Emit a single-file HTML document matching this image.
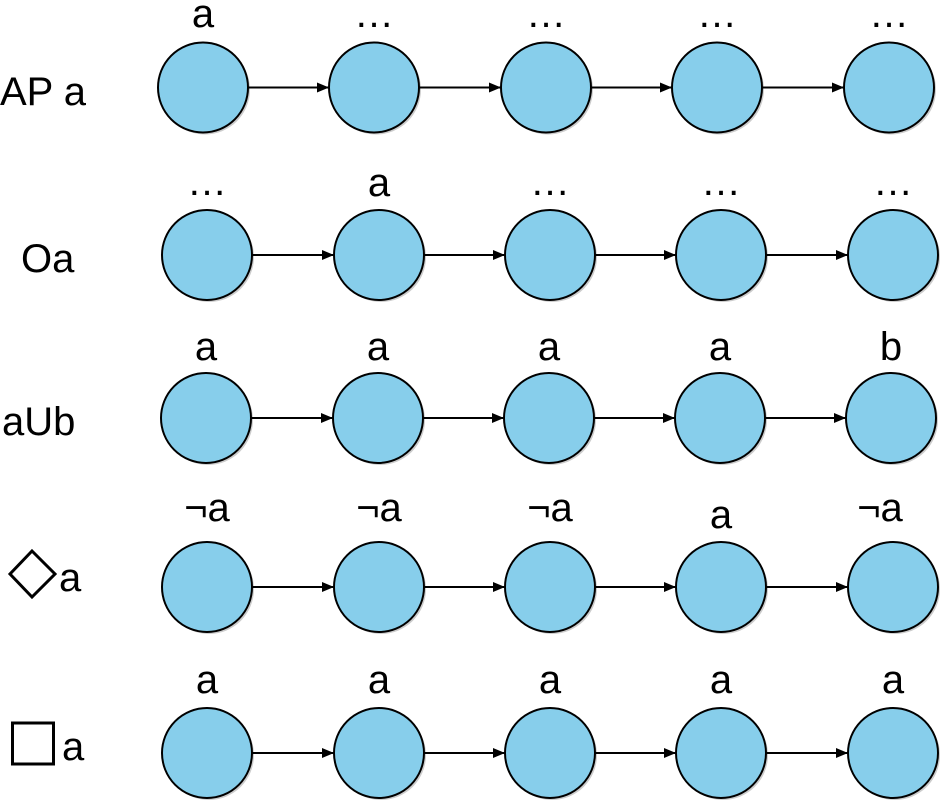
<!DOCTYPE html>
<html><head><meta charset="utf-8"><style>html,body{margin:0;padding:0;background:#fff;width:944px;height:803px;overflow:hidden}</style></head>
<body>
<svg width="944" height="803" viewBox="0 0 944 803" xmlns="http://www.w3.org/2000/svg" font-family="Liberation Sans, Arial, sans-serif" font-size="40">
<defs>
<marker id="ar" markerWidth="12" markerHeight="10" refX="12" refY="5" orient="auto" markerUnits="userSpaceOnUse">
<path d="M0,0 L12,5 L0,10 z" fill="#000"/></marker>
</defs>
<g id="rows"></g>
<!-- left labels -->
<text x="0" y="105">AP a</text>
<text x="21" y="272">Oa</text>
<text x="2" y="435">aUb</text>
<path d="M32,551 L55,574 L32,597 L10,574 Z" fill="none" stroke="#000" stroke-width="3"/>
<text x="59" y="591">a</text>
<rect x="12.5" y="723" width="41" height="41" fill="none" stroke="#000" stroke-width="3"/>
<text x="62" y="760">a</text>
<g text-anchor="middle">
<!-- row1 -->
<text x="203" y="27">a</text><text x="374" y="27">…</text><text x="546" y="27">…</text><text x="717" y="27">…</text><text x="889" y="27">…</text>
<!-- row2 -->
<text x="207" y="195">…</text><text x="379" y="196">a</text><text x="550" y="195">…</text><text x="721" y="195">…</text><text x="893" y="195">…</text>
<!-- row3 -->
<text x="206" y="360">a</text><text x="378" y="360">a</text><text x="549" y="360">a</text><text x="720" y="360">a</text><text x="891" y="360">b</text>
<!-- row4 -->
<text x="207" y="521">¬a</text><text x="379" y="521">¬a</text><text x="550" y="521">¬a</text><text x="721" y="528">a</text><text x="880" y="521">¬a</text>
<!-- row5 -->
<text x="207" y="693">a</text><text x="379" y="693">a</text><text x="550" y="693">a</text><text x="721" y="693">a</text><text x="893" y="693">a</text>
</g>
<g stroke="#000" stroke-width="2" fill="#87ceeb">
<!-- row1 -->
<g transform="translate(0,87.5)">
<circle cx="205" cy="2" r="45" fill="#ccc" stroke="none"/><circle cx="376" cy="2" r="45" fill="#ccc" stroke="none"/><circle cx="548" cy="2" r="45" fill="#ccc" stroke="none"/><circle cx="719" cy="2" r="45" fill="#ccc" stroke="none"/><circle cx="891" cy="2" r="45" fill="#ccc" stroke="none"/>
<circle cx="203" cy="0" r="45"/><circle cx="374" cy="0" r="45"/><circle cx="546" cy="0" r="45"/><circle cx="717" cy="0" r="45"/><circle cx="889" cy="0" r="45"/>
<line x1="248" y1="0" x2="329" y2="0" marker-end="url(#ar)"/><line x1="419" y1="0" x2="501" y2="0" marker-end="url(#ar)"/><line x1="591" y1="0" x2="672" y2="0" marker-end="url(#ar)"/><line x1="762" y1="0" x2="844" y2="0" marker-end="url(#ar)"/>
</g>
<g transform="translate(0,255)">
<circle cx="209" cy="2" r="45" fill="#ccc" stroke="none"/><circle cx="381" cy="2" r="45" fill="#ccc" stroke="none"/><circle cx="552" cy="2" r="45" fill="#ccc" stroke="none"/><circle cx="723" cy="2" r="45" fill="#ccc" stroke="none"/><circle cx="895" cy="2" r="45" fill="#ccc" stroke="none"/>
<circle cx="207" cy="0" r="45"/><circle cx="379" cy="0" r="45"/><circle cx="550" cy="0" r="45"/><circle cx="721" cy="0" r="45"/><circle cx="893" cy="0" r="45"/>
<line x1="252" y1="0" x2="334" y2="0" marker-end="url(#ar)"/><line x1="424" y1="0" x2="505" y2="0" marker-end="url(#ar)"/><line x1="595" y1="0" x2="676" y2="0" marker-end="url(#ar)"/><line x1="766" y1="0" x2="848" y2="0" marker-end="url(#ar)"/>
</g>
<g transform="translate(0,418)">
<circle cx="208" cy="2" r="45" fill="#ccc" stroke="none"/><circle cx="380" cy="2" r="45" fill="#ccc" stroke="none"/><circle cx="551" cy="2" r="45" fill="#ccc" stroke="none"/><circle cx="722" cy="2" r="45" fill="#ccc" stroke="none"/><circle cx="893" cy="2" r="45" fill="#ccc" stroke="none"/>
<circle cx="206" cy="0" r="45"/><circle cx="378" cy="0" r="45"/><circle cx="549" cy="0" r="45"/><circle cx="720" cy="0" r="45"/><circle cx="891" cy="0" r="45"/>
<line x1="251" y1="0" x2="333" y2="0" marker-end="url(#ar)"/><line x1="423" y1="0" x2="504" y2="0" marker-end="url(#ar)"/><line x1="594" y1="0" x2="675" y2="0" marker-end="url(#ar)"/><line x1="765" y1="0" x2="846" y2="0" marker-end="url(#ar)"/>
</g>
<g transform="translate(0,587)">
<circle cx="209" cy="2" r="45" fill="#ccc" stroke="none"/><circle cx="381" cy="2" r="45" fill="#ccc" stroke="none"/><circle cx="552" cy="2" r="45" fill="#ccc" stroke="none"/><circle cx="723" cy="2" r="45" fill="#ccc" stroke="none"/><circle cx="895" cy="2" r="45" fill="#ccc" stroke="none"/>
<circle cx="207" cy="0" r="45"/><circle cx="379" cy="0" r="45"/><circle cx="550" cy="0" r="45"/><circle cx="721" cy="0" r="45"/><circle cx="893" cy="0" r="45"/>
<line x1="252" y1="0" x2="334" y2="0" marker-end="url(#ar)"/><line x1="424" y1="0" x2="505" y2="0" marker-end="url(#ar)"/><line x1="595" y1="0" x2="676" y2="0" marker-end="url(#ar)"/><line x1="766" y1="0" x2="848" y2="0" marker-end="url(#ar)"/>
</g>
<g transform="translate(0,753)">
<circle cx="209" cy="2" r="45" fill="#ccc" stroke="none"/><circle cx="381" cy="2" r="45" fill="#ccc" stroke="none"/><circle cx="552" cy="2" r="45" fill="#ccc" stroke="none"/><circle cx="723" cy="2" r="45" fill="#ccc" stroke="none"/><circle cx="895" cy="2" r="45" fill="#ccc" stroke="none"/>
<circle cx="207" cy="0" r="45"/><circle cx="379" cy="0" r="45"/><circle cx="550" cy="0" r="45"/><circle cx="721" cy="0" r="45"/><circle cx="893" cy="0" r="45"/>
<line x1="252" y1="0" x2="334" y2="0" marker-end="url(#ar)"/><line x1="424" y1="0" x2="505" y2="0" marker-end="url(#ar)"/><line x1="595" y1="0" x2="676" y2="0" marker-end="url(#ar)"/><line x1="766" y1="0" x2="848" y2="0" marker-end="url(#ar)"/>
</g>
</g>
</svg>
</body></html>
